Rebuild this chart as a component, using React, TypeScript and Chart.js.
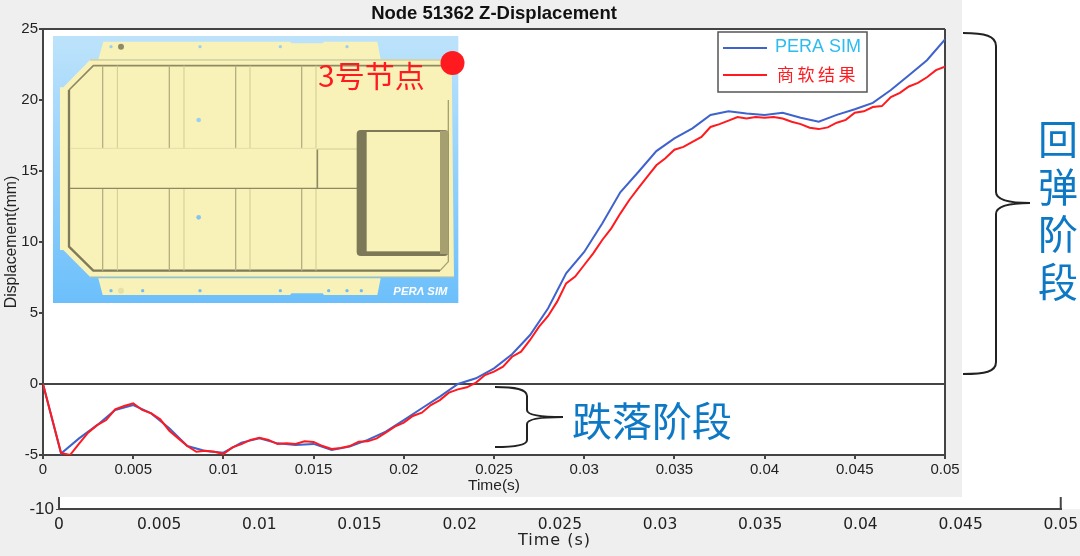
import { useEffect, useRef } from "react";
import Chart from "chart.js/auto";

const chartTitle = "Node 51362 Z-Displacement";
const xTitle = "Time(s)";
const yTitle = "Displacement(mm)";
const lowerXTitle = "Time (s)";
const seriesNames = ["PERA SIM", "商软结果"];
const insetLabel = "3号节点";
const fallLabel = "跌落阶段";
const reboundLabel = ["回", "弹", "阶", "段"];

const timeBlue = [
  0, 0.001, 0.002, 0.003, 0.004, 0.005, 0.006, 0.007, 0.008, 0.009, 0.01, 0.011, 0.012, 0.013,
  0.014, 0.015, 0.016, 0.017, 0.018, 0.019, 0.02, 0.021, 0.022, 0.023, 0.024, 0.025, 0.026, 0.027,
  0.028, 0.029, 0.03, 0.031, 0.032, 0.033, 0.034, 0.035, 0.036, 0.037, 0.038, 0.039, 0.04, 0.041,
  0.042, 0.043, 0.044, 0.045, 0.046, 0.047, 0.048, 0.049, 0.05,
];
const dispBlue = [
  0, -4.9, -3.83, -2.9, -1.83, -1.48, -2.07, -3.12, -4.37, -4.72, -4.84, -4.13, -3.83, -4.18,
  -4.3, -4.22, -4.65, -4.41, -3.94, -3.36, -2.54, -1.71, -0.89, 0, 0.4, 1.1, 2.1, 3.45,
  5.33, 7.8, 9.3, 11.3, 13.5, 14.93, 16.4, 17.3, 18.0, 18.95, 19.2, 19.05, 18.95, 19.1,
  18.75, 18.47, 18.95, 19.35, 19.8, 20.7, 21.75, 22.8, 24.27,
];

const timeRed = [
  0, 0.001, 0.0015, 0.002, 0.0025, 0.003, 0.0035, 0.004, 0.0045, 0.005, 0.0055, 0.006, 0.0065,
  0.007, 0.0075, 0.008, 0.0085, 0.009, 0.0095, 0.01, 0.0105, 0.011, 0.0115, 0.012, 0.0125, 0.013,
  0.0135, 0.014, 0.0145, 0.015, 0.0155, 0.016, 0.0165, 0.017, 0.0175, 0.018, 0.0185, 0.019, 0.0195,
  0.02, 0.0205, 0.021, 0.0215, 0.022, 0.0225, 0.023, 0.0235, 0.024, 0.0245, 0.025, 0.0255, 0.026,
  0.0265, 0.027, 0.0275, 0.028, 0.0285, 0.029, 0.0295, 0.03, 0.0305, 0.031, 0.0315, 0.032, 0.0325,
  0.033, 0.0335, 0.034, 0.0345, 0.035, 0.0355, 0.036, 0.0365, 0.037, 0.0375, 0.038, 0.0385, 0.039,
  0.0395, 0.04, 0.0405, 0.041, 0.0415, 0.042, 0.0425, 0.043, 0.0435, 0.044, 0.0445, 0.045, 0.0455,
  0.046, 0.0465, 0.047, 0.0475, 0.048, 0.0485, 0.049, 0.0495, 0.05,
];
const dispRed = [
  0, -4.85, -5.0, -4.2, -3.43, -2.9, -2.54, -1.78, -1.55, -1.36, -1.83, -2.07, -2.49,
  -3.29, -3.83, -4.37, -4.77, -4.7, -4.77, -4.93, -4.46, -4.23, -3.94, -3.78, -3.94, -4.23,
  -4.18, -4.23, -4.04, -4.08, -4.37, -4.58, -4.51, -4.37, -4.06, -4.04, -3.83, -3.43, -3.0,
  -2.72, -2.25, -2.02, -1.48, -1.13, -0.61, -0.38, -0.23, 0.1, 0.63, 0.87, 1.22, 1.92,
  2.28, 3.1, 4.04, 4.79, 5.8, 7.09, 7.56, 8.38, 9.2, 10.14, 10.96, 12.0, 12.96,
  13.8, 14.6, 15.4, 15.9, 16.5, 16.7, 17.05, 17.4, 18.1, 18.3, 18.55, 18.8, 18.7,
  18.8, 18.75, 18.8, 18.7, 18.47, 18.3, 18.05, 17.95, 18.07, 18.4, 18.6, 19.1, 19.2,
  19.5, 19.57, 20.2, 20.5, 20.95, 21.2, 21.6, 22.1, 22.35,
];

const GRAY = "#efefef";
const AXIS = "#444444";
const BLUE = "#3f62cc";
const RED = "#ff1a1f";
const FALL_BLUE = "#0d78c4";
const SANS = '"Liberation Sans", Arial, sans-serif';
const CJK = '"Noto Sans CJK SC", sans-serif';

const formatTime = (v: number | string) => String(parseFloat(Number(v).toFixed(3)));
const isEnd = (v: number) => Math.abs(v - 0.05) < 1e-6;

// Plate picture in the corner, coordinates are 3x page pixels
const drawPlate = (ctx: CanvasRenderingContext2D) => {
  ctx.save();
  ctx.beginPath();
  ctx.rect(53, 36, 406, 267);
  ctx.clip();
  ctx.scale(1 / 3, 1 / 3);
  ctx.lineJoin = "round";
  const sky = ctx.createLinearGradient(0, 108, 0, 910);
  sky.addColorStop(0, "#bde3fb");
  sky.addColorStop(1, "#6cbffb");
  ctx.fillStyle = sky;
  ctx.fillRect(158, 108, 1217, 802);
  // the original is a soft scaled-down render
  ctx.filter = "blur(0.5px)";

  const poly = (pts: number[][], color: string) => {
    ctx.beginPath();
    pts.forEach(([x, y], i) => (i ? ctx.lineTo(x, y) : ctx.moveTo(x, y)));
    ctx.closePath();
    ctx.fillStyle = color;
    ctx.fill();
  };
  const line = (pts: number[][], color: string, w: number) => {
    ctx.beginPath();
    pts.forEach(([x, y], i) => (i ? ctx.lineTo(x, y) : ctx.moveTo(x, y)));
    ctx.strokeStyle = color;
    ctx.lineWidth = w;
    ctx.stroke();
  };

  const yellow = "#f9f2b8";
  poly([[295, 178], [310, 125], [870, 125], [875, 130], [968, 130], [972, 125], [1132, 125], [1142, 178]], yellow);
  poly([[295, 835], [308, 885], [870, 885], [875, 880], [968, 880], [972, 885], [1132, 885], [1142, 835]], yellow);
  poly([[270, 180], [1355, 180], [1362, 830], [270, 830], [190, 750], [180, 750], [180, 262], [190, 262]], yellow);

  line([[270, 180], [1355, 180]], "#d6d19a", 4);
  line([[270, 830], [1362, 830]], "#d6d19a", 3);
  line([[1345, 197], [280, 197], [207, 270]], "#8e8962", 5);
  line([[207, 270], [207, 740], [280, 812], [1320, 812]], "#7f7a58", 7);
  line([[1345, 300], [1345, 785], [1320, 812]], "#a6a070", 4);

  [308, 508, 707, 905].forEach((x) => {
    line([[x, 197], [x, 445]], "#b5b084", 4);
    line([[x, 565], [x, 812]], "#b5b084", 4);
  });
  [352, 552, 750, 948].forEach((x) => {
    line([[x, 197], [x, 445]], "#cfca95", 3);
    line([[x, 565], [x, 812]], "#cfca95", 3);
  });
  line([[210, 565], [1075, 565]], "#8e8964", 4);
  line([[210, 445], [950, 445]], "#e3dea8", 3);
  line([[952, 448], [952, 565]], "#8e8964", 5);
  line([[952, 447], [1075, 447]], "#cfca95", 3);

  ctx.beginPath();
  ctx.roundRect(1070, 390, 275, 378, 12);
  ctx.fillStyle = "#7d7858";
  ctx.fill();
  ctx.fillStyle = "#a6a070";
  ctx.fillRect(1320, 392, 25, 370);
  ctx.fillStyle = yellow;
  ctx.fillRect(1100, 396, 220, 358);

  const dot = (x: number, y: number, r: number, color: string) => {
    ctx.beginPath();
    ctx.arc(x, y, r, 0, Math.PI * 2);
    ctx.fillStyle = color;
    ctx.fill();
  };
  dot(596, 360, 7, "#9dd0f0");
  dot(596, 652, 7, "#80c4f4");
  dot(363, 140, 9, "#8f8a66");
  dot(363, 872, 9, "#e6e0a8");
  [333, 600, 841, 1041].forEach((x) => dot(x, 140, 5, "#9dd0f0"));
  [333, 428, 600, 841, 986, 1041, 1084].forEach((x) => dot(x, 872, 5, "#70bdf2"));

  ctx.filter = "none";
  ctx.fillStyle = "#ffffff";
  ctx.font = `italic bold 34px ${SANS}`;
  ctx.textAlign = "left";
  ctx.textBaseline = "middle";
  ctx.fillText("PERΛ SIM", 1180, 875);
  ctx.restore();

  ctx.fillStyle = RED;
  ctx.font = `30px ${CJK}`;
  ctx.textAlign = "left";
  ctx.textBaseline = "middle";
  ctx.fillText(insetLabel, 318, 76);
  ctx.beginPath();
  ctx.arc(452.5, 63, 12, 0, Math.PI * 2);
  ctx.fill();
};

const drawBraces = (ctx: CanvasRenderingContext2D) => {
  ctx.save();
  ctx.strokeStyle = "#222222";
  ctx.lineWidth = 2;
  ctx.beginPath();
  ctx.moveTo(963, 33);
  ctx.bezierCurveTo(985, 33, 996, 36, 996, 46);
  ctx.lineTo(996, 192);
  ctx.bezierCurveTo(996, 200, 1010, 203, 1030, 203);
  ctx.bezierCurveTo(1010, 203, 996, 206, 996, 214);
  ctx.lineTo(996, 362);
  ctx.bezierCurveTo(996, 372, 985, 374, 963, 374);
  ctx.stroke();
  ctx.beginPath();
  ctx.moveTo(495, 387);
  ctx.bezierCurveTo(515, 387, 527, 389, 527, 396);
  ctx.lineTo(527, 410);
  ctx.bezierCurveTo(527, 415, 540, 417, 563, 417);
  ctx.bezierCurveTo(540, 417, 527, 419, 527, 424);
  ctx.lineTo(527, 440);
  ctx.bezierCurveTo(527, 445, 515, 447, 495, 447);
  ctx.stroke();
  ctx.restore();

  ctx.fillStyle = FALL_BLUE;
  ctx.font = `40px ${CJK}`;
  ctx.textAlign = "left";
  ctx.textBaseline = "middle";
  ctx.fillText(fallLabel, 572, 421);
  ctx.textAlign = "center";
  reboundLabel.forEach((ch, i) => ctx.fillText(ch, 1058, 139 + i * 47.5));
};

const drawLegend = (chart: Chart) => {
  const ctx = chart.ctx;
  const rowY = [48, 75];
  ctx.save();
  ctx.fillStyle = "#ffffff";
  ctx.fillRect(718, 32, 149, 60);
  ctx.strokeStyle = "#555555";
  ctx.lineWidth = 1.5;
  ctx.strokeRect(718, 32, 149, 60);
  chart.data.datasets.forEach((ds, i) => {
    ctx.strokeStyle = ds.borderColor as string;
    ctx.lineWidth = 2;
    ctx.beginPath();
    ctx.moveTo(723, rowY[i]);
    ctx.lineTo(767, rowY[i]);
    ctx.stroke();
  });
  ctx.textBaseline = "middle";
  ctx.textAlign = "left";
  ctx.fillStyle = "#2cbcf0";
  ctx.font = `18px ${SANS}`;
  ctx.fillText(seriesNames[0], 775, 47);
  ctx.fillStyle = RED;
  ctx.font = `17px ${CJK}`;
  (ctx as any).letterSpacing = "3.5px";
  ctx.fillText(seriesNames[1], 777, 75);
  ctx.restore();
};

const mainDecor = {
  id: "mainDecor",
  beforeDraw(chart: Chart) {
    const { ctx, chartArea: a } = chart;
    ctx.save();
    ctx.fillStyle = "#ffffff";
    ctx.fillRect(0, 0, chart.width, chart.height);
    ctx.fillStyle = GRAY;
    ctx.fillRect(0, 0, 962, 497);
    ctx.fillStyle = "#ffffff";
    ctx.fillRect(a.left, a.top, a.right - a.left, a.bottom - a.top);
    ctx.restore();
  },
  afterDraw(chart: Chart) {
    const ctx = chart.ctx;
    ctx.save();
    drawPlate(ctx);
    drawBraces(ctx);
    drawLegend(chart);
    ctx.restore();
  },
};

const lowerDecor = {
  id: "lowerDecor",
  beforeDraw(chart: Chart) {
    const { ctx, chartArea: a } = chart;
    ctx.save();
    ctx.fillStyle = GRAY;
    ctx.fillRect(0, 0, chart.width, chart.height);
    ctx.fillStyle = "#ffffff";
    ctx.fillRect(a.left, 0, chart.width - a.left, a.bottom);
    ctx.restore();
  },
  afterDraw(chart: Chart) {
    const { ctx, chartArea: a } = chart;
    ctx.save();
    // stub ends of the axis frame
    ctx.strokeStyle = AXIS;
    ctx.lineWidth = 2;
    [a.left, a.right].forEach((x) => {
      ctx.beginPath();
      ctx.moveTo(x, 0);
      ctx.lineTo(x, a.bottom);
      ctx.stroke();
    });
    ctx.fillStyle = "#222222";
    ctx.font = '16px "DejaVu Sans", sans-serif';
    ctx.textAlign = "center";
    ctx.textBaseline = "middle";
    (ctx as any).letterSpacing = "1px";
    ctx.fillText(lowerXTitle, 554.5, 44);
    ctx.restore();
  },
};

export default function App() {
  const mainRef = useRef<HTMLCanvasElement>(null);
  const lowerRef = useRef<HTMLCanvasElement>(null);

  useEffect(() => {
    if (!mainRef.current || !lowerRef.current) return;

    const mainChart = new Chart(mainRef.current, {
      type: "line",
      data: {
        datasets: [
          {
            label: seriesNames[0],
            data: timeBlue.map((t, i) => ({ x: t, y: dispBlue[i] })),
            borderColor: BLUE,
            borderWidth: 2,
            pointRadius: 0,
            tension: 0,
            order: 2,
          },
          {
            label: seriesNames[1],
            data: timeRed.map((t, i) => ({ x: t, y: dispRed[i] })),
            borderColor: RED,
            borderWidth: 2,
            pointRadius: 0,
            tension: 0,
            order: 1,
          },
        ],
      },
      options: {
        animation: false,
        responsive: false,
        layout: { padding: { left: 0, right: 135, top: 0, bottom: 0 } },
        plugins: {
          legend: { display: false },
          tooltip: { enabled: false },
          title: {
            display: true,
            text: chartTitle,
            fullSize: false,
            color: "#111111",
            font: { family: SANS, size: 18.5, weight: "bold" },
            padding: { top: 3, bottom: 3.8 },
          },
        },
        scales: {
          x: {
            type: "linear",
            min: 0,
            max: 0.05,
            afterFit: (s: any) => {
              s.height = 42;
            },
            border: { color: AXIS, width: 2 },
            grid: {
              color: (c: any) => (isEnd(c.tick.value) ? AXIS : "transparent"),
              tickColor: AXIS,
              tickLength: 4,
              lineWidth: 2,
            },
            ticks: {
              stepSize: 0.005,
              autoSkip: false,
              maxRotation: 0,
              padding: 2,
              color: "#222222",
              font: { family: SANS, size: 15 },
              callback: (v: any) => formatTime(v),
            },
            title: {
              display: true,
              text: xTitle,
              color: "#222222",
              font: { family: SANS, size: 15.5 },
              padding: { top: 0, bottom: 2 },
            },
          },
          y: {
            min: -5,
            max: 25,
            afterFit: (s: any) => {
              s.width = 43;
            },
            border: { color: AXIS, width: 2 },
            grid: {
              color: (c: any) => (c.tick.value === 0 || c.tick.value === 25 ? AXIS : "transparent"),
              tickColor: AXIS,
              tickLength: 4,
              lineWidth: 2,
            },
            ticks: {
              stepSize: 5,
              padding: 1,
              color: "#222222",
              font: { family: SANS, size: 15 },
            },
            title: {
              display: true,
              text: yTitle,
              color: "#222222",
              font: { family: SANS, size: 15.8 },
              padding: { top: 2, bottom: 0 },
            },
          },
        },
      },
      plugins: [mainDecor],
    });

    const lowerChart = new Chart(lowerRef.current, {
      type: "line",
      data: { datasets: [{ data: [], pointRadius: 0 }] },
      options: {
        animation: false,
        responsive: false,
        layout: { padding: { left: 0, right: 19, top: 0, bottom: 0 } },
        plugins: { legend: { display: false }, tooltip: { enabled: false } },
        scales: {
          x: {
            type: "linear",
            min: 0,
            max: 0.05,
            afterFit: (s: any) => {
              s.height = 48.5;
            },
            border: { color: AXIS, width: 2 },
            grid: {
              color: (c: any) => (isEnd(c.tick.value) ? AXIS : "transparent"),
              tickColor: "transparent",
              tickLength: 4,
              lineWidth: 2,
            },
            ticks: {
              stepSize: 0.005,
              autoSkip: false,
              maxRotation: 0,
              padding: 2,
              color: "#222222",
              font: { family: '"DejaVu Sans", sans-serif', size: 15.5 },
              callback: (v: any) => formatTime(v),
            },
          },
          y: {
            min: -10,
            max: -8,
            afterFit: (s: any) => {
              s.width = 59;
            },
            afterBuildTicks: (s: any) => {
              s.ticks = [{ value: -10 }];
            },
            border: { color: AXIS, width: 2 },
            grid: { drawOnChartArea: false, tickColor: AXIS, tickLength: 3 },
            ticks: {
              padding: 2,
              color: "#222222",
              font: { family: SANS, size: 17 },
            },
          },
        },
      },
      plugins: [lowerDecor],
    });

    return () => {
      mainChart.destroy();
      lowerChart.destroy();
    };
  }, []);

  return (
    <div style={{ position: "absolute", left: 0, top: 0, width: 1080, height: 556, background: "#fff" }}>
      <canvas ref={mainRef} width={1080} height={497} style={{ position: "absolute", left: 0, top: 0 }} />
      <canvas ref={lowerRef} width={1080} height={59} style={{ position: "absolute", left: 0, top: 497 }} />
    </div>
  );
}
